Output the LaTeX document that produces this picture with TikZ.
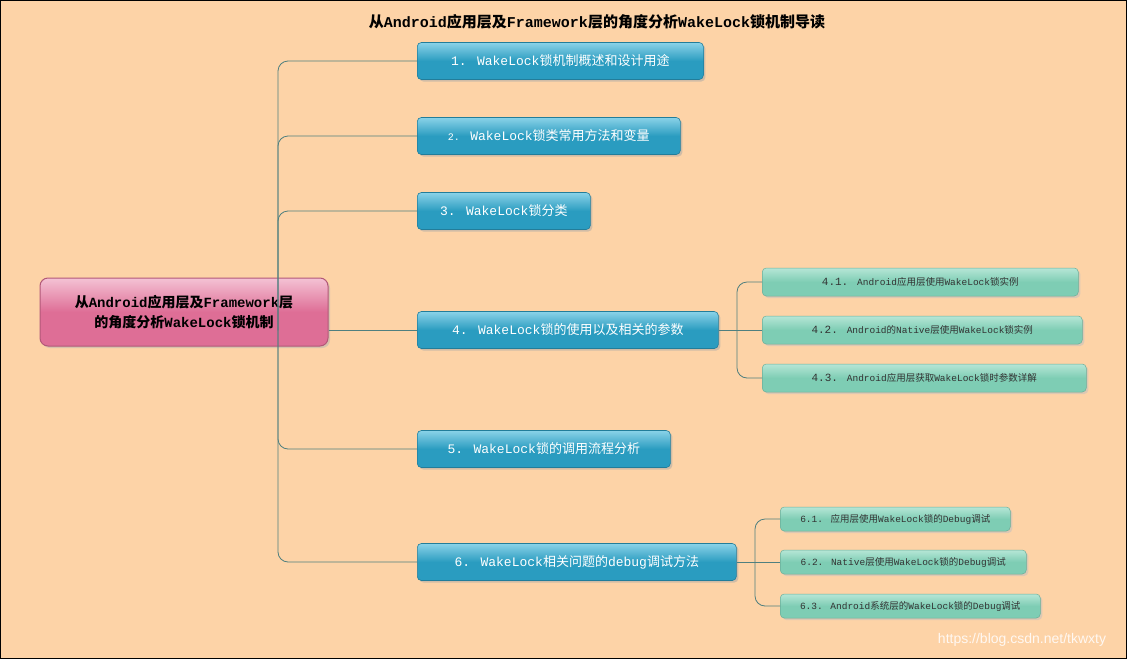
\documentclass[tikz,border=0pt]{standalone}
\usepackage{fontspec}
\setmainfont{Liberation Mono}
\newfontfamily\latinfont{Liberation Mono}
\newfontfamily\cjk{Noto Sans CJK SC}
\newfontfamily\wm{Liberation Sans}
\XeTeXinterchartokenstate=1
\newXeTeXintercharclass\CJKcls
\count255="4E00
\loop\XeTeXcharclass\count255=\CJKcls\ifnum\count255<"9FFF\advance\count255 1\repeat
\XeTeXinterchartoks 0 \CJKcls = {\cjk}
\XeTeXinterchartoks 4095 \CJKcls = {\cjk}
\XeTeXinterchartoks \CJKcls 0 = {\latinfont}
\usetikzlibrary{shadows}
\definecolor{bg}{HTML}{FDD3A7}
\definecolor{mainb}{HTML}{2A9CC0}
\definecolor{maint}{HTML}{8AD2E8}
\definecolor{subb}{HTML}{7ECDB4}
\definecolor{subt}{HTML}{B6E6D6}
\definecolor{rootb}{HTML}{DE6E96}
\definecolor{roott}{HTML}{F4C2D4}
\definecolor{conn}{HTML}{4F7F7F}
\begin{document}
\begin{tikzpicture}[x=1pt,y=-1pt,
  mainbox/.style={draw=mainb!80!black,line width=0.6pt,rounded corners=4pt,top color=maint,bottom color=mainb,middle color=mainb,
    text=white,font=\fontsize{13}{15}\selectfont,minimum height=37pt,inner xsep=10pt,anchor=west,
    drop shadow={shadow xshift=2pt,shadow yshift=-2pt,fill=black!35}},
  subbox/.style={draw=subb!85!black,line width=0.5pt,rounded corners=4pt,top color=subt,bottom color=subb,middle color=subb,
    text=black!80,font=\fontsize{11}{13}\selectfont,minimum height=28pt,inner xsep=8pt,anchor=west,
    drop shadow={shadow xshift=2pt,shadow yshift=-2pt,fill=black!25}},
  subsm/.style={subbox,font=\fontsize{9.5}{11}\selectfont,minimum height=24pt},
  cn/.style={draw=conn,line width=0.8pt,rounded corners=10pt}]
\fill[bg] (0,0) rectangle (1127,659);
\draw[black,line width=1pt] (0.5,0.5) rectangle (1126.5,658.5);
\node (title) at (597,22) {\fontsize{15}{17}\selectfont\bfseries 从Android应用层及Framework层的角度分析WakeLock锁机制导读};
\node[draw=rootb!80!black,line width=1pt,rounded corners=8pt,top color=roott,bottom color=rootb,middle color=rootb,
  minimum width=288pt,minimum height=68pt,align=center,font=\fontsize{14}{20}\selectfont\bfseries,
  drop shadow={shadow xshift=2pt,shadow yshift=-2pt,fill=black!30}] (root) at (184,312)
  {从Android应用层及Framework层\\的角度分析WakeLock锁机制};
\node[mainbox,minimum width=286pt] (n1) at (417,61) {1. WakeLock锁机制概述和设计用途};
\node[mainbox,minimum width=263pt] (n2) at (417,136) {{\fontsize{10}{12}\selectfont 2.} WakeLock锁类常用方法和变量};
\node[mainbox,minimum width=173pt] (n3) at (417,211) {3. WakeLock锁分类};
\node[mainbox,minimum width=301pt] (n4) at (417,330) {4. WakeLock锁的使用以及相关的参数};
\node[mainbox,minimum width=253pt] (n5) at (417,449) {5. WakeLock锁的调用流程分析};
\node[mainbox,minimum width=319pt] (n6) at (417,562) {6. WakeLock相关问题的debug调试方法};
\node[subbox,minimum width=316pt] (s41) at (762,282) {4.1. {\fontsize{9.5}{11}\selectfont Android应用层使用WakeLock锁实例}};
\node[subbox,minimum width=320pt] (s42) at (762,330) {4.2. {\fontsize{9.5}{11}\selectfont Android的Native层使用WakeLock锁实例}};
\node[subbox,minimum width=324pt] (s43) at (762,378) {4.3. {\fontsize{9.5}{11}\selectfont Android应用层获取WakeLock锁时参数详解}};
\node[subsm,minimum width=230pt] (s61) at (780,519) {6.1. 应用层使用WakeLock锁的Debug调试};
\node[subsm,minimum width=246pt] (s62) at (780,562) {6.2. Native层使用WakeLock锁的Debug调试};
\node[subsm,minimum width=260pt] (s63) at (780,606) {6.3. Android系统层的WakeLock锁的Debug调试};
\coordinate (t) at (278,330);
\coordinate (b4) at (737,330);
\coordinate (b6) at (755,562);
\begin{scope}[on background layer/.style={}]
\draw[cn] (n1.west) -| (t);
\draw[cn] (n2.west) -| (t);
\draw[cn] (n3.west) -| (t);
\draw[cn] (n5.west) -| (t);
\draw[cn] (n6.west) -| (t);
\draw[cn] (root.east |- t) -- (n4.west);
\draw[cn] (n4.east) -- (b4);
\draw[cn] (s41.west) -| (b4);
\draw[cn] (s43.west) -| (b4);
\draw[cn] (b4) -- (s42.west);
\draw[cn] (n6.east) -- (b6);
\draw[cn] (s61.west) -| (b6);
\draw[cn] (s63.west) -| (b6);
\draw[cn] (b6) -- (s62.west);
\end{scope}
\node[text=white!85!bg,font=\wm\fontsize{14}{16}\selectfont] (wmk) at (1022,640) {https://blog.csdn.net/tkwxty};
\end{tikzpicture}
\end{document}
